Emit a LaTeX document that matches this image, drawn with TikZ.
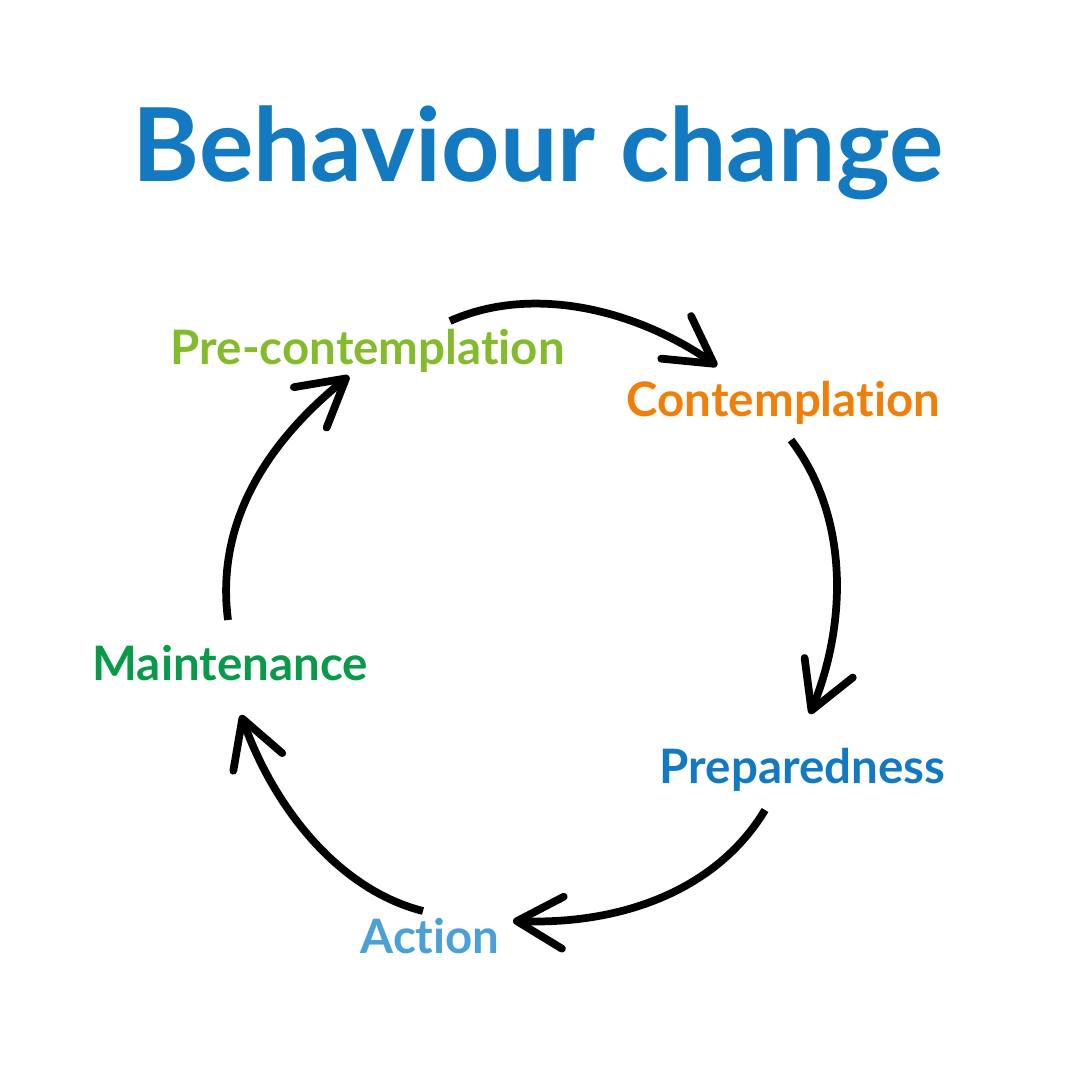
\documentclass[tikz,border=0pt]{standalone}
\usepackage{fontspec}
\setmainfont[Ligatures=NoCommon]{Lato}
\usetikzlibrary{arrows.meta}
\definecolor{titleblue}{HTML}{1379C0}
\definecolor{pregreen}{HTML}{84BB2C}
\definecolor{conorange}{HTML}{F07F09}
\definecolor{actblue}{HTML}{4BA0D8}
\definecolor{maingreen}{HTML}{089A48}
\tikzset{
    stage/.style={anchor=base west,inner sep=0pt,font=\fontsize{13.5}{16}\selectfont\bfseries},
    cycle/.style={line width=2.2pt,black,-{Straight Barb[length=4.6mm,width=5.2mm,round,line width=2.2pt]}}
}
\begin{document}
\begin{tikzpicture}[x=0.01cm,y=-0.01cm]
        \useasboundingbox (0,0) rectangle (1080,1080);
        \node [anchor=base,inner sep=0pt,text=titleblue,font=\fontsize{29}{34}\selectfont\bfseries] (title) at (538,182) {Behaviour change};

        \node [stage,text=pregreen] (pre) at (170,365) {Pre-contemplation};
        \node [stage,text=conorange] (con) at (626,417) {Contemplation};
        \node [stage,text=titleblue] (prep) at (659,783) {Preparedness};
        \node [stage,text=actblue] (act) at (360,953) {Action};
        \node [stage,text=maingreen] (main) at (92,680) {Maintenance};

        \draw [cycle] ([shift={(280,-44)}]pre.base west) .. controls (535,283) and (640,312) .. ([shift={(91,-51)}]con.base west);
        \draw [cycle] ([shift={(165,23)}]con.base west) .. controls (848,515) and (848,620) .. ([shift={(151,-69)}]prep.base west);
        \draw [cycle] ([shift={(106,27)}]prep.base west) .. controls (720,885) and (630,925) .. ([shift={(153,-32)}]act.base west);
        \draw [cycle] ([shift={(63,-42)}]act.base west) .. controls (340,890) and (275,810) .. ([shift={(149,35)}]main.base west);
        \draw [cycle] ([shift={(136,-60)}]main.base west) .. controls (215,520) and (270,440) .. ([shift={(179,11)}]pre.base west);
\end{tikzpicture}
\end{document}
